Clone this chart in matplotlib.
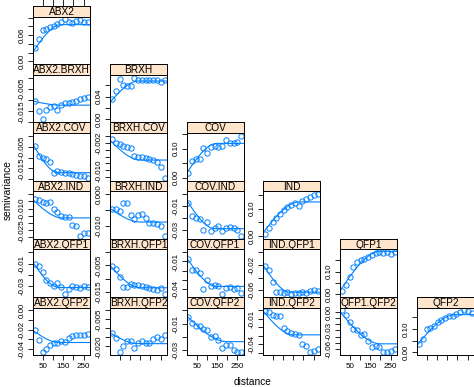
import numpy as np
import matplotlib.pyplot as plt

plt.rcParams['font.family'] = ['Liberation Sans', 'DejaVu Sans']

variables = ["ABX2", "BRXH", "COV", "IND", "QFP1", "QFP2"]

# lag distances (same for all panels)
dist = [9, 29, 48, 66, 84, 102, 120, 139, 157, 176, 195, 214, 233, 252, 271]

# sample (cross) semivariances
g_ABX2 = [0.030, 0.050, 0.072, 0.075, 0.078, 0.082, 0.085, 0.090, 0.096, 0.090, 0.088, 0.092, 0.095, 0.091, 0.090]
g_ABX2_BRXH = [-0.0103, -0.0147, -0.0187, -0.0146, -0.0132, -0.0128, -0.0143, -0.0121, -0.0115, -0.0113, -0.0110, -0.0106, -0.0096, -0.0091, -0.0085]
g_ABX2_COV = [-0.0047, -0.0093, -0.0100, -0.0107, -0.0119, -0.0171, -0.0161, -0.0169, -0.0171, -0.0171, -0.0174, -0.0179, -0.0183, -0.0186, -0.0193]
g_ABX2_IND = [-0.0031, -0.0042, -0.0057, -0.0064, -0.0057, -0.0106, -0.0121, -0.0149, -0.0160, -0.0160, -0.0214, -0.0220, -0.0289, -0.0272, -0.0267]
g_ABX2_QFP1 = [-0.0100, -0.0119, -0.0175, -0.0241, -0.0273, -0.0295, -0.0273, -0.0308, -0.0367, -0.0321, -0.0300, -0.0308, -0.0313, -0.0300, -0.0308]
g_ABX2_QFP2 = [-0.0207, -0.0307, -0.0437, -0.0400, -0.0363, -0.0344, -0.0337, -0.0319, -0.0333, -0.0289, -0.0270, -0.0259, -0.0259, -0.0252, -0.0241]
g_BRXH = [0.036, 0.050, 0.070, 0.061, 0.059, 0.059, 0.073, 0.068, 0.068, 0.069, 0.069, 0.068, 0.068, 0.065, 0.068]
g_BRXH_COV = [-0.0010, -0.0020, -0.0025, -0.0030, -0.0032, -0.0035, -0.0057, -0.0060, -0.0062, -0.0065, -0.0068, -0.0070, -0.0075, -0.0090, -0.0121]
g_BRXH_IND = [-0.0045, -0.0047, -0.0053, -0.0027, -0.0027, -0.0065, -0.0079, -0.0065, -0.0062, -0.0076, -0.0091, -0.0091, -0.0094, -0.0100, -0.0130]
g_BRXH_QFP1 = [-0.0054, -0.0064, -0.0094, -0.0133, -0.0133, -0.0121, -0.0123, -0.0126, -0.0130, -0.0133, -0.0136, -0.0140, -0.0144, -0.0137, -0.0159]
g_BRXH_QFP2 = [-0.0126, -0.0154, -0.0233, -0.0200, -0.0172, -0.0168, -0.0209, -0.0182, -0.0172, -0.0182, -0.0182, -0.0157, -0.0150, -0.0157, -0.0135]
g_COV = [0.015, 0.056, 0.063, 0.065, 0.102, 0.085, 0.106, 0.110, 0.106, 0.110, 0.131, 0.119, 0.119, 0.123, 0.144]
g_COV_IND = [-0.0077, -0.0186, -0.0200, -0.0209, -0.0300, -0.0237, -0.0314, -0.0286, -0.0266, -0.0309, -0.0286, -0.0277, -0.0286, -0.0300, -0.0351]
g_COV_QFP1 = [-0.0075, -0.0195, -0.0188, -0.0224, -0.0393, -0.0305, -0.0365, -0.0358, -0.0365, -0.0453, -0.0383, -0.0372, -0.0393, -0.0383, -0.0443]
g_COV_QFP2 = [-0.0048, -0.0093, -0.0120, -0.0115, -0.0141, -0.0147, -0.0200, -0.0195, -0.0221, -0.0280, -0.0261, -0.0261, -0.0301, -0.0315, -0.0315]
g_IND = [0.007, 0.029, 0.050, 0.067, 0.080, 0.096, 0.107, 0.114, 0.119, 0.110, 0.129, 0.133, 0.143, 0.148, 0.153]
g_IND_QFP1 = [-0.0225, -0.0275, -0.0475, -0.0625, -0.0625, -0.0640, -0.0625, -0.0660, -0.0640, -0.0650, -0.0625, -0.0640, -0.0610, -0.0590, -0.0610]
g_IND_QFP2 = [-0.0003, -0.0013, -0.0056, -0.0069, -0.0066, -0.0206, -0.0240, -0.0270, -0.0283, -0.0291, -0.0399, -0.0420, -0.0497, -0.0484, -0.0463]
g_QFP1 = [0.012, 0.040, 0.078, 0.122, 0.144, 0.151, 0.157, 0.165, 0.174, 0.183, 0.186, 0.183, 0.186, 0.179, 0.186]
g_QFP1_QFP2 = [0.0023, -0.0045, -0.0158, -0.0272, -0.0289, -0.0368, -0.0357, -0.0470, -0.0572, -0.0555, -0.0572, -0.0651, -0.0651, -0.0628, -0.0600]
g_QFP2 = [0.035, 0.058, 0.100, 0.103, 0.110, 0.127, 0.138, 0.145, 0.156, 0.156, 0.163, 0.171, 0.178, 0.176, 0.168]

panels = ["ABX2", "ABX2.BRXH", "ABX2.COV", "ABX2.IND", "ABX2.QFP1", "ABX2.QFP2",
          "BRXH", "BRXH.COV", "BRXH.IND", "BRXH.QFP1", "BRXH.QFP2",
          "COV", "COV.IND", "COV.QFP1", "COV.QFP2",
          "IND", "IND.QFP1", "IND.QFP2",
          "QFP1", "QFP1.QFP2",
          "QFP2"]
gammas = [g_ABX2, g_ABX2_BRXH, g_ABX2_COV, g_ABX2_IND, g_ABX2_QFP1, g_ABX2_QFP2,
          g_BRXH, g_BRXH_COV, g_BRXH_IND, g_BRXH_QFP1, g_BRXH_QFP2,
          g_COV, g_COV_IND, g_COV_QFP1, g_COV_QFP2,
          g_IND, g_IND_QFP1, g_IND_QFP2,
          g_QFP1, g_QFP1_QFP2,
          g_QFP2]

# fitted spherical models: nugget, partial sill, range
nugget = [0.022, -0.0105, -0.004, -0.004, -0.009, -0.021,
          0.030, -0.0013, -0.0045, -0.005, -0.0125,
          0.015, -0.005, -0.006, -0.004,
          0.012, -0.020, -0.0005,
          0.015, 0.0,
          0.030]
psill = [0.062, -0.0018, -0.013, -0.0125, -0.022, -0.0125,
         0.037, -0.0057, -0.0042, -0.0085, -0.006,
         0.103, -0.024, -0.031, -0.0195,
         0.112, -0.043, -0.0285,
         0.175, -0.0515,
         0.13]
model_range = [140, 140, 125, 145, 130, 130,
               140, 150, 150, 150, 140,
               150, 140, 150, 200,
               180, 135, 150,
               200, 200,
               190]

# y axis ticks and the labels that survive overlap checking
tick_step = [0.02, 0.005, 0.005, 0.005, 0.01, 0.01,
             0.02, 0.002, 0.005, 0.005, 0.005,
             0.05, 0.01, 0.01, 0.01,
             0.05, 0.02, 0.01,
             0.05, 0.01,
             0.05]
tick_labels = [["0.00", "0.06"], ["-0.015", "-0.005"], ["-0.015", "-0.005"], ["-0.025", "-0.010"],
               ["-0.03", "-0.01"], ["-0.04", "-0.02", "0.00"],
               ["0.00", "0.04"], ["-0.010", "-0.002"], ["-0.010", "0.000"], ["-0.015", "-0.005"],
               ["-0.020", "-0.005"],
               ["0.00", "0.10"], ["-0.03", "-0.01"], ["-0.04", "-0.01"], ["-0.03", "-0.01"],
               ["0.00", "0.10"], ["-0.06", "-0.02"], ["-0.04", "-0.01"],
               ["0.00", "0.10", "0.20"], ["-0.06", "-0.03", "0.00"],
               ["0.00", "0.10"]]

xticks = [50, 100, 150, 200, 250]
xtick_labels = ["50", "", "150", "", "250"]

BLUE = "#0080ff"
STRIP = "#ffe5cc"

W, H = 474, 387
fig = plt.figure(figsize=(W / 100, H / 100), dpi=100)

col_left = [33, 110, 186.5, 263, 340, 417]
pan_w = 57
top0 = 6
pitch = 58.2
strip_h = 10.5
pan_h = pitch - strip_h
xmax = 1.04 * max(dist)


def spherical(h, c0, c1, a):
    r = np.minimum(h / a, 1.0)
    return c0 + c1 * (1.5 * r - 0.5 * r ** 3)


for k, name in enumerate(panels):
    parts = name.split(".")
    col = variables.index(parts[0])
    row = variables.index(parts[-1])
    top = top0 + row * pitch
    x0 = col_left[col]

    sax = fig.add_axes([x0 / W, 1 - (top + strip_h) / H, pan_w / W, strip_h / H])
    sax.set_facecolor(STRIP)
    sax.set_xlim(0, xmax)
    sax.set_ylim(0, 1)
    sax.set_yticks([])
    sax.text(0.5, 0.42, name, transform=sax.transAxes, ha="center", va="center", fontsize=7.3)
    if row == 0:
        sax.set_xticks(xticks)
        sax.set_xticklabels([])
        sax.tick_params(axis="x", bottom=False, top=True, direction="out", length=5, width=0.6)
    else:
        sax.set_xticks([])
    for sp in sax.spines.values():
        sp.set_linewidth(0.7)

    ax = fig.add_axes([x0 / W, 1 - (top + pitch) / H, pan_w / W, pan_h / H])
    g = np.array(gammas[k])
    h = np.linspace(0.5, xmax, 300)
    ax.plot(h, spherical(h, nugget[k], psill[k], model_range[k]), color=BLUE, lw=0.8)
    ax.plot(dist, g, "o", mfc="none", mec=BLUE, ms=3.8, mew=0.7)

    lo, hi = min(0.0, g.min()), max(0.0, g.max())
    pad = 0.07 * (hi - lo)
    y0, y1 = lo - pad, hi + pad
    ax.set_xlim(0, xmax)
    ax.set_ylim(y0, y1)

    step = tick_step[k]
    ticks = np.arange(np.ceil(y0 / step - 1e-9) * step, y1 + 1e-12, step)
    ticks = [t for t in ticks if y0 <= t <= y1]
    shown = [float(s) for s in tick_labels[k]]
    fmt = {float(s): s for s in tick_labels[k]}
    labs = []
    for t in ticks:
        m = [v for v in shown if abs(v - t) < step * 0.01]
        labs.append(fmt[m[0]] if m else "")
    ax.set_yticks(ticks)
    ax.set_yticklabels(labs, rotation=90, va="center", fontsize=5.8)
    ax.tick_params(axis="y", direction="out", length=3.5, width=0.6, pad=1.5)

    if row == len(variables) - 1:
        ax.set_xticks(xticks)
        ax.set_xticklabels(xtick_labels if col % 2 == 0 else [""] * len(xticks), fontsize=5.8)
        ax.tick_params(axis="x", direction="out", length=3.5, width=0.6, pad=2)
    else:
        ax.set_xticks([])
    for sp in ax.spines.values():
        sp.set_linewidth(0.7)

fig.text(8 / W, 1 - 190 / H, "semivariance", rotation=90, ha="center", va="center", fontsize=7.3)
fig.text(253 / W, 1 - 377 / H, "distance", ha="center", va="top", fontsize=7.3)

fig.savefig("out.png", dpi=100)
